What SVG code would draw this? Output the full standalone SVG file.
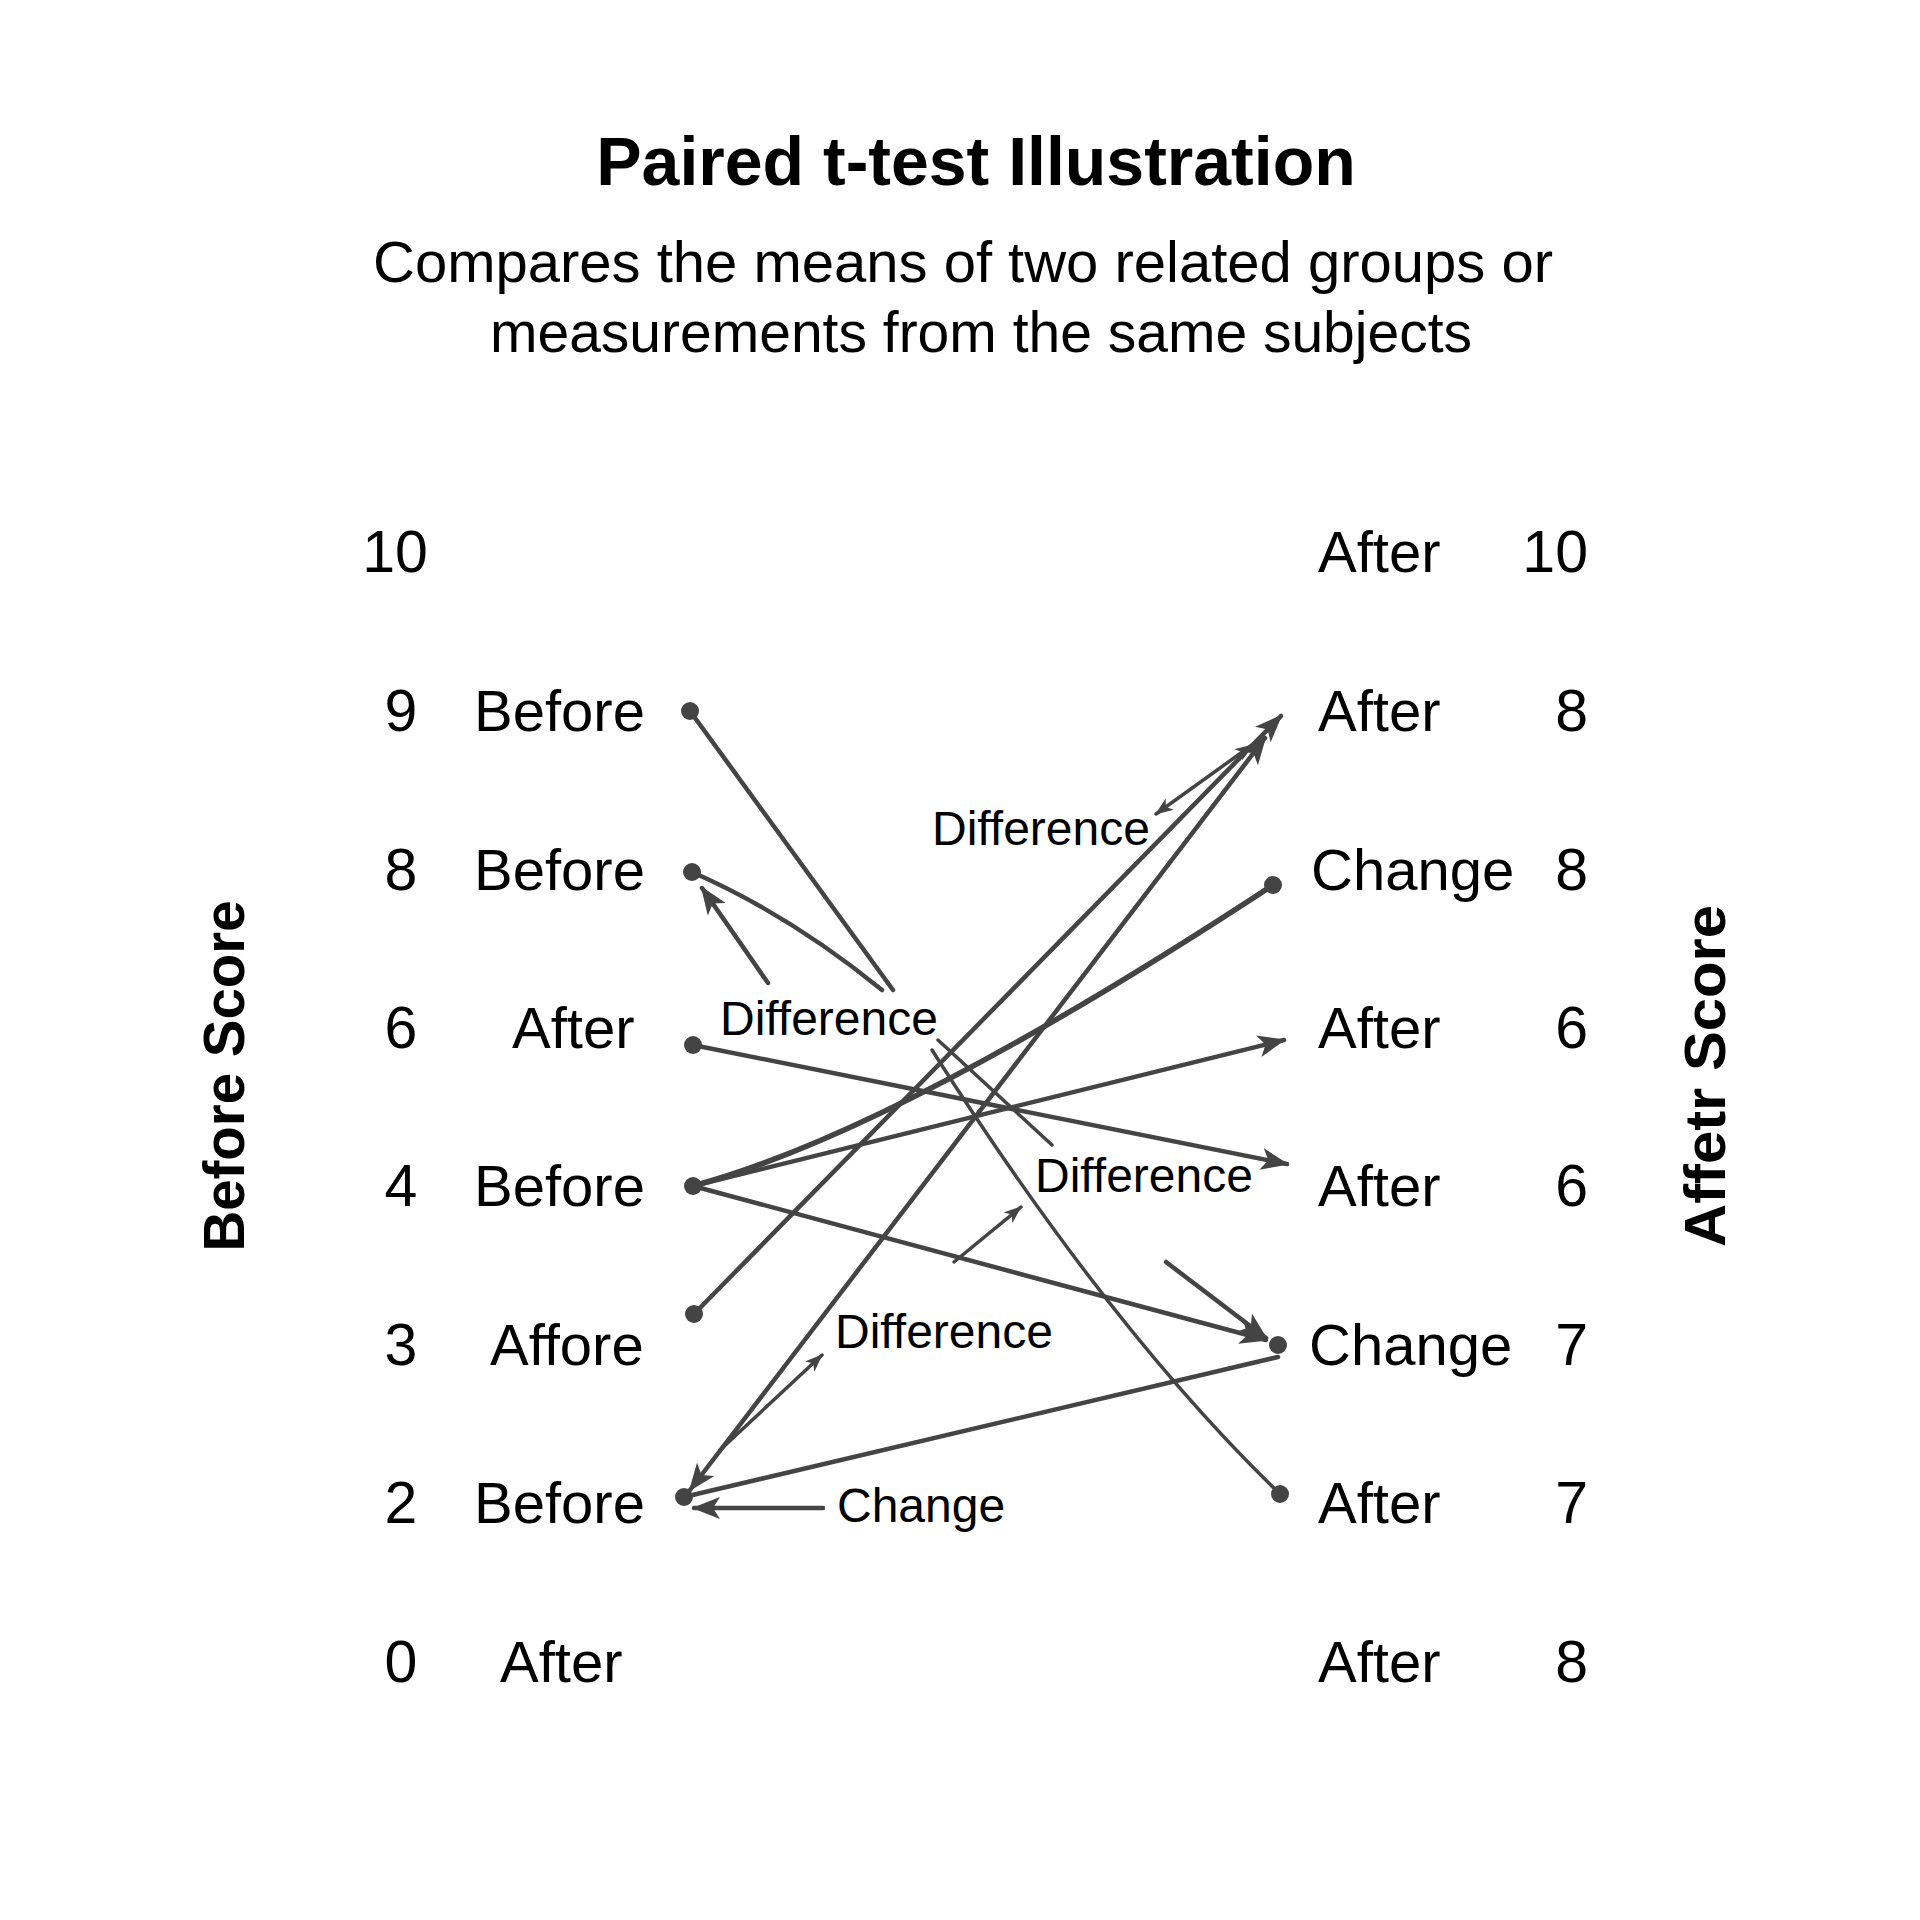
<svg xmlns="http://www.w3.org/2000/svg" width="1920" height="1920" viewBox="0 0 1920 1920">
<defs>
<style>
text{font-family:"Liberation Sans",Arial,Helvetica,sans-serif;fill:#000}
.title{font-size:68px;font-weight:bold;text-anchor:middle}
.sub{font-size:57px;text-anchor:middle}
.lab{font-size:58px}
.num{font-size:59px}
.axis{font-size:58px;font-weight:bold;text-anchor:middle}
.cl{font-size:48px;paint-order:stroke;stroke:#fff;stroke-width:8px;stroke-linejoin:round}
.ln{fill:none;stroke:#444;stroke-width:4.5;stroke-linecap:round}
.th{stroke-width:3.5}
.dot{fill:#444}
</style>
<marker id="ah" markerUnits="userSpaceOnUse" markerWidth="28" markerHeight="22" viewBox="0 0 28 22" refX="26" refY="11" orient="auto-start-reverse">
<path d="M0,0 L28,11 L0,22 L7,11 z" fill="#444"/>
</marker>
<marker id="as" markerUnits="userSpaceOnUse" markerWidth="18" markerHeight="14" viewBox="0 0 18 14" refX="17" refY="7" orient="auto-start-reverse">
<path d="M0,0 L18,7 L0,14 L5,7 z" fill="#444"/>
</marker>
</defs>
<rect width="1920" height="1920" fill="#fff"/>

<g id="title">
<text class="title" x="976" y="185">Paired t-test Illustration</text>
<text class="sub" x="963" y="282" style="font-size:58px">Compares the means of two related groups or</text>
<text class="sub" x="981" y="352">measurements from the same subjects</text>
</g>

<g id="axis-labels">
<text class="axis" transform="translate(244,1076) rotate(-90)" textLength="351" lengthAdjust="spacingAndGlyphs">Before Score</text>
<text class="axis" transform="translate(1725,1076) rotate(-90)" textLength="342" lengthAdjust="spacingAndGlyphs">Affetr Score</text>
</g>

<g id="left-scale">
<g id="l10"><text class="num" x="395" y="572" text-anchor="middle">10</text></g>
<g id="l9"><text class="num" x="401" y="731" text-anchor="middle">9</text><text class="lab" x="474" y="731">Before</text></g>
<g id="l8"><text class="num" x="401" y="890" text-anchor="middle">8</text><text class="lab" x="474" y="890">Before</text></g>
<g id="l6"><text class="num" x="401" y="1048" text-anchor="middle">6</text><text class="lab" x="512" y="1048">After</text></g>
<g id="l4"><text class="num" x="401" y="1206" text-anchor="middle">4</text><text class="lab" x="474" y="1206">Before</text></g>
<g id="l3"><text class="num" x="401" y="1365" text-anchor="middle">3</text><text class="lab" x="490" y="1365">Affore</text></g>
<g id="l2"><text class="num" x="401" y="1523" text-anchor="middle">2</text><text class="lab" x="474" y="1523">Before</text></g>
<g id="l0"><text class="num" x="401" y="1682" text-anchor="middle">0</text><text class="lab" x="500" y="1682">After</text></g>
</g>

<g id="right-scale">
<g id="r10"><text class="lab" x="1318" y="572">After</text><text class="num" x="1588" y="572" text-anchor="end">10</text></g>
<g id="r8a"><text class="lab" x="1318" y="731">After</text><text class="num" x="1588" y="731" text-anchor="end">8</text></g>
<g id="r8b"><text class="lab" x="1311" y="890">Change</text><text class="num" x="1588" y="890" text-anchor="end">8</text></g>
<g id="r6a"><text class="lab" x="1318" y="1048">After</text><text class="num" x="1588" y="1048" text-anchor="end">6</text></g>
<g id="r6b"><text class="lab" x="1318" y="1206">After</text><text class="num" x="1588" y="1206" text-anchor="end">6</text></g>
<g id="r7a"><text class="lab" x="1309" y="1365">Change</text><text class="num" x="1588" y="1365" text-anchor="end">7</text></g>
<g id="r7b"><text class="lab" x="1318" y="1523">After</text><text class="num" x="1588" y="1523" text-anchor="end">7</text></g>
<g id="r8c"><text class="lab" x="1318" y="1682">After</text><text class="num" x="1588" y="1682" text-anchor="end">8</text></g>
</g>

<g id="connectors">
<line class="ln" x1="690" y1="711" x2="893" y2="990"/>
<path class="ln" d="M692 872 Q790 915 882 990"/>
<line class="ln" x1="768" y1="983" x2="702" y2="888" marker-end="url(#ah)"/>
<line class="ln" x1="693" y1="1045" x2="1287" y2="1164" marker-end="url(#ah)"/>
<line class="ln" x1="693" y1="1186" x2="1284" y2="1040" marker-end="url(#ah)"/>
<path class="ln" d="M693 1186 Q900 1130 1273 885" style="stroke-width:5.5"/>
<line class="ln" x1="693" y1="1186" x2="1266" y2="1340" marker-end="url(#ah)"/>
<line class="ln" x1="1166" y1="1262" x2="1266" y2="1338" marker-end="url(#ah)"/>
<line class="ln" x1="694" y1="1314" x2="1281" y2="716" marker-end="url(#ah)"/>
<line class="ln" x1="690" y1="1490" x2="1265" y2="738" marker-start="url(#ah)" marker-end="url(#ah)"/>
<line class="ln th" x1="1156" y1="814" x2="1252" y2="745" marker-start="url(#as)" marker-end="url(#as)"/>
<line class="ln" x1="1278" y1="1357" x2="684" y2="1497"/>
<line class="ln" x1="823" y1="1508" x2="694" y2="1508" marker-end="url(#ah)"/>
<line class="ln th" x1="720" y1="1450" x2="822" y2="1355" marker-end="url(#as)"/>
<line class="ln th" x1="954" y1="1262" x2="1021" y2="1207" marker-end="url(#as)"/>
<path class="ln th" d="M932 1050 Q1110 1330 1280 1494"/>
<line class="ln th" x1="938" y1="1040" x2="1052" y2="1145"/>
</g>

<g id="points">
<circle class="dot" cx="690" cy="711" r="9"/>
<circle class="dot" cx="692" cy="872" r="9"/>
<circle class="dot" cx="693" cy="1045" r="9"/>
<circle class="dot" cx="693" cy="1186" r="9"/>
<circle class="dot" cx="694" cy="1314" r="9"/>
<circle class="dot" cx="684" cy="1497" r="9"/>
<circle class="dot" cx="1273" cy="885" r="9"/>
<circle class="dot" cx="1278" cy="1345" r="9"/>
<circle class="dot" cx="1280" cy="1494" r="9"/>
</g>

<g id="connector-labels">
<text class="cl" x="720" y="1035">Difference</text>
<text class="cl" x="932" y="845">Difference</text>
<text class="cl" x="1035" y="1192">Difference</text>
<text class="cl" x="835" y="1348">Difference</text>
<text class="cl" x="837" y="1522">Change</text>
</g>
</svg>
